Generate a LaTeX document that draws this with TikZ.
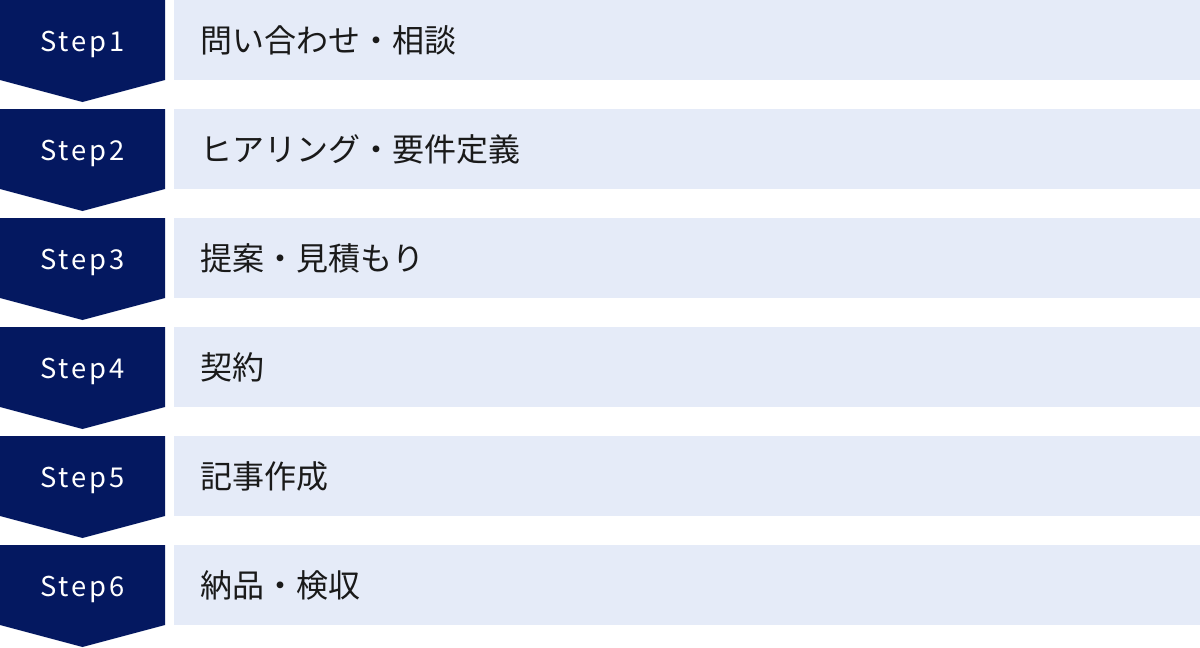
\documentclass[tikz,border=0pt]{standalone}
\usepackage{fontspec}
\newfontfamily\jpfont{Noto Sans CJK JP}
\newfontfamily\stepfont[LetterSpace=10]{Noto Sans CJK JP}
\definecolor{stepnavy}{RGB}{4,24,96}
\definecolor{rowblue}{RGB}{229,235,248}
\definecolor{inkgray}{RGB}{26,26,26}

\tikzset{
  steplabel/.style={text=white, font=\stepfont\fontsize{20.5}{24}\selectfont, inner sep=0pt, anchor=base},
  tasklabel/.style={text=inkgray, font=\jpfont\fontsize{24}{28}\selectfont, inner sep=0pt, anchor=west}
}

\begin{document}
\begin{tikzpicture}[x=0.75pt, y=-0.75pt]
  \useasboundingbox (0,0) rectangle (1200,647);

  % one row per step: navy arrow box on the left, light band on the right
  \foreach \i/\txt in {1/問い合わせ・相談, 2/ヒアリング・要件定義, 3/提案・見積もり,
                       4/契約, 5/記事作成, 6/納品・検収} {
    \pgfmathsetmacro\top{(\i-1)*109}
    \fill[stepnavy] (0,\top) -- (165,\top) -- (165,\top+80) -- (82.5,\top+102)
                    -- (0,\top+80) -- cycle;
    \fill[rowblue] (174,\top) rectangle (1200,\top+80);
    \node[steplabel] (step\i) at (82.5,\top+51) {Step\i};
    \node[tasklabel] (task\i) at (200,\top+40) {\txt};
  }
\end{tikzpicture}
\end{document}
